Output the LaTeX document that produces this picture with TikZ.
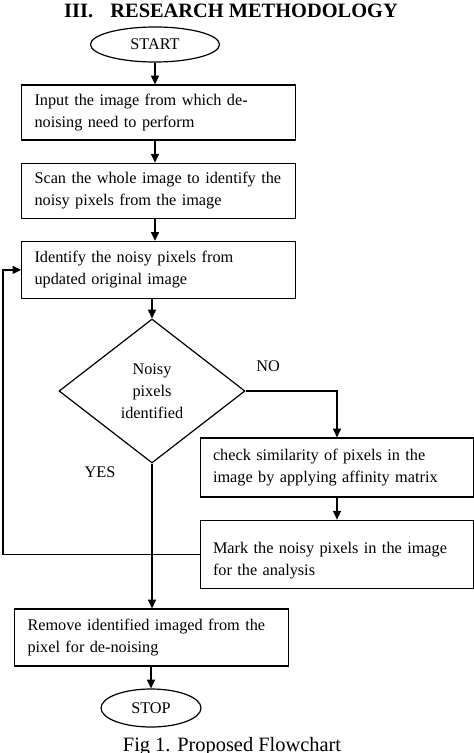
\documentclass[tikz,border=0pt]{standalone}
\usepackage{fontspec}
\setmainfont{Liberation Serif}
\usepackage{tikz}
\usetikzlibrary{positioning,arrows.meta,shapes.geometric}

\begin{document}
\begin{tikzpicture}[
  x=0.75pt, y=-0.75pt,
  font=\fontsize{12.2}{16.5}\selectfont,
  line width=0.9pt,
  box/.style={draw, text width=186pt, inner xsep=9.5pt, inner ysep=0pt, align=left, minimum height=41.25pt},
  terminal/.style={draw, ellipse, inner sep=0pt, align=center},
  decision/.style={draw, diamond, minimum width=139.5pt, minimum height=108pt, inner sep=0pt, align=center},
  arr/.style={-{Triangle[length=6.5pt,width=6pt]}}
]
\useasboundingbox (0,0) rectangle (474,753);
\clip (0,0) rectangle (474,753);
\node[anchor=base, font=\fontsize{15.3}{18}\selectfont\bfseries] (title) at (231,17) {III.\hspace{13pt}RESEARCH METHODOLOGY};
\node[terminal, minimum width=96.75pt, minimum height=26.25pt] (start) at (155,44.5) {START};
\node[box] (n1) at (158.5,112.5) {Input the image from which de-\\noising need to perform};
\node[box, below=16.5pt of n1] (n2) {Scan the whole image to identify the\\noisy pixels from the image};
\node[box, below=16.5pt of n2, minimum height=42.75pt] (n3) {Identify the noisy pixels from\\updated original image};
\node[decision] (dec) at (152,391) {Noisy\\pixels\\identified};
\node[box, minimum height=44.25pt] (n4) at (337,467.5) {check similarity of pixels in the\\image by applying affinity matrix};
\node[box, below=16.5pt of n4, minimum height=51pt, text depth=10pt] (n5) {Mark the noisy pixels in the image\\for the analysis};
\node[box, minimum height=42.75pt] (n6) at (151.5,637.5) {Remove identified imaged from the\\pixel for de-noising};
\node[terminal, minimum width=75pt, minimum height=28.5pt] (stop) at (151,708) {STOP};
\node (lblno) at (268,366) {NO};
\node (lblyes) at (100,472) {YES};
\node[anchor=base, font=\fontsize{15.3}{18}\selectfont] (caption) at (232,751.5) {Fig 1. Proposed Flowchart};
\coordinate (lp) at (3,0);
\draw[arr] (start.south) -- (start.south |- n1.north);
\draw[arr] (start.south |- n1.south) -- (start.south |- n2.north);
\draw[arr] (start.south |- n2.south) -- (start.south |- n3.north);
\draw[arr] (dec.north |- n3.south) -- (dec.north);
\draw[arr] (dec.east) -- (n4.north |- dec.east) -- (n4.north);
\draw[arr] (n4.south) -- (n5.north);
\draw[arr] (n5.west) -- (n5.west -| lp) |- (n3.west);
\draw[arr] (dec.south) -- (dec.south |- n6.north);
\draw[arr] (stop.north |- n6.south) -- (stop.north);
\end{tikzpicture}
\end{document}
